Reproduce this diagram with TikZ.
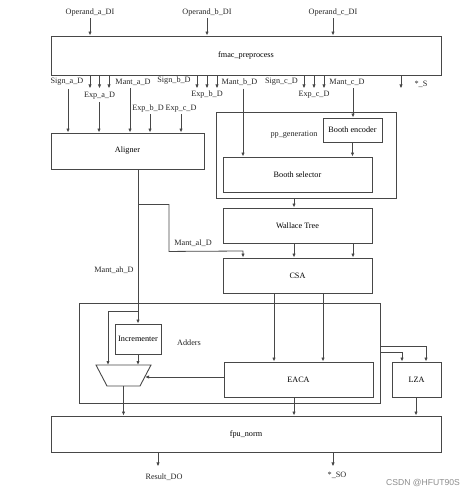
\documentclass[tikz,border=0pt]{standalone}
\usepackage{fontspec}
\setmainfont{Liberation Serif}
\newfontfamily\wmfont{Liberation Sans}
\usetikzlibrary{arrows.meta}
\tikzset{
  ln/.style={draw=black!72, line width=0.8pt},
  arr/.style={ln, -{Latex[length=4pt,width=3.4pt]}},
  box/.style={draw=black!72, line width=0.9pt, inner sep=0pt, font=\fontsize{8.2}{9}\selectfont},
  lbl/.style={inner sep=0pt, font=\fontsize{8.2}{9}\selectfont, text=black!85},
}
\begin{document}
\begin{tikzpicture}[x=1pt,y=-1pt]
\useasboundingbox (0,0) rectangle (474,494);

% ---- boxes
\node[box, minimum width=390pt, minimum height=39pt] (fmac) at (246,55.5) {fmac\_preprocess};
\node[box, minimum width=153pt, minimum height=36pt] (align) at (127.5,151) {Aligner};
\node[box, minimum width=180pt, minimum height=86pt] (pp) at (306,155) {};
\node[lbl] (pplbl) at (294,135) {pp\_generation};
\node[box, minimum width=59pt, minimum height=24pt] (benc) at (352.5,130) {Booth encoder};
\node[box, minimum width=149pt, minimum height=35pt] (bsel) at (297.5,174.5) {Booth selector};
\node[box, minimum width=149pt, minimum height=35pt] (wal) at (297.5,225.5) {Wallace Tree};
\node[box, minimum width=149pt, minimum height=35pt] (csa) at (297.5,275.5) {CSA};
\node[box, minimum width=301pt, minimum height=100pt] (adders) at (229.5,353) {};
\node[lbl] (addlbl) at (189,343) {Adders};
\node[box, minimum width=46pt, minimum height=30pt] (inc) at (138,339) {Incrementer};
\node[box, minimum width=149pt, minimum height=35pt] (eaca) at (298.5,379.5) {EACA};
\node[box, minimum width=49pt, minimum height=35pt] (lza) at (416.5,379.5) {LZA};
\node[box, minimum width=390pt, minimum height=36pt] (fpu) at (246,434) {fpu\_norm};

% ---- multiplexer
\coordinate (muxtl) at (96,365);
\coordinate (muxtr) at (151,365);
\coordinate (muxbr) at (140,386);
\coordinate (muxbl) at (107,386);
\draw[draw=black!72, line width=0.9pt] (muxtl) -- (muxtr) -- (muxbr) -- (muxbl) -- cycle;
\coordinate (muxin1) at (108,365);
\coordinate (muxin2) at (138,365);
\coordinate (muxinr) at (145,377);
\coordinate (muxout) at (123.5,386);

% ---- top inputs
\node[lbl] (opa) at (90,13) {Operand\_a\_DI};
\node[lbl] (opb) at (207,13) {Operand\_b\_DI};
\node[lbl] (opc) at (333,13) {Operand\_c\_DI};
\draw[arr] (opa.south) ++(0,1.5) -- (opa.south |- fmac.north);
\draw[arr] (opb.south) ++(0,1.5) -- (opb.south |- fmac.north);
\draw[arr] (opc.south) ++(0,1.5) -- (opc.south |- fmac.north);

% ---- fmac outputs
\foreach \xx in {90,99.5,109,197,207,217,304,314,324,401}
  \draw[arr] (fmac.south -| \xx,0) -- ++(0,13);

\node[lbl] (signa) at (67,82) {Sign\_a\_D};
\node[lbl] (expa) at (99.5,96) {Exp\_a\_D};
\node[lbl] (manta) at (133,82) {Mant\_a\_D};
\node[lbl] (signb) at (174,81) {Sign\_b\_D};
\node[lbl] (expb) at (207,95) {Exp\_b\_D};
\node[lbl] (mantb) at (239.5,82) {Mant\_b\_D};
\node[lbl] (signc) at (281.5,82) {Sign\_c\_D};
\node[lbl] (expc) at (314,95) {Exp\_c\_D};
\node[lbl] (mantc) at (347,82) {Mant\_c\_D};
\node[lbl] (stars) at (421,84) {*\_S};
\node[lbl] (expb2) at (148,109) {Exp\_b\_D};
\node[lbl] (expc2) at (181,109) {Exp\_c\_D};

% ---- into Aligner
\draw[arr] (signa.south -| 68,0) ++(0,3) -- (align.north -| 68,0);
\draw[arr] (expa.south -| 99,0) ++(0,2) -- (align.north -| 99,0);
\draw[arr] (manta.south -| 130,0) ++(0,3) -- (align.north -| 130,0);
\draw[arr] (expb2.south -| 150,0) ++(0,1.5) -- (align.north -| 150,0);
\draw[arr] (expc2.south -| 181,0) ++(0,1.5) -- (align.north -| 181,0);

% ---- into pp_generation
\draw[arr] (mantb.south -| 243,0) ++(0,3) -- (bsel.north -| 243,0);
\draw[arr] (mantc.south -| 353,0) ++(0,3) -- (benc.north -| 353,0);
\draw[arr] (benc.south) -- (benc.south |- bsel.north);
\draw[arr] (pp.south -| 294,0) -- (wal.north -| 294,0);
\draw[arr] (wal.south -| 294,0) -- (csa.north -| 294,0);
\draw[arr] (wal.south -| 353,0) -- (csa.north -| 353,0);

% ---- Aligner outputs
\draw[arr] (align.south -| 138,0) -- (inc.north -| 138,0);
\draw[arr] (align.south -| 138,0) ++(0,35) -- ++(31,0) -- ++(0,47) -- (243,251) -- (csa.north -| 243,0);
\node[lbl] (mantal) at (193,243) {Mant\_al\_D};
\node[lbl] (mantah) at (114,270) {Mant\_ah\_D};
\draw[arr] (138,311) -- (108,311) -- (muxin1);
\draw[arr] (inc.south -| 138,0) -- (muxin2);

% ---- CSA to EACA
\draw[arr] (csa.south -| 274,0) -- (eaca.north -| 274,0);
\draw[arr] (csa.south -| 323,0) -- (eaca.north -| 323,0);

% ---- to LZA
\draw[arr] (adders.east |- 0,346) -- (426,346) -- (lza.north -| 426,0);
\draw[arr] (adders.east |- 0,352) -- (402,352) -- (lza.north -| 402,0);

% ---- EACA to mux
\draw[arr] (eaca.west |- muxinr) -- (muxinr);

% ---- into fpu_norm
\draw[arr] (muxout) -- (fpu.north -| muxout);
\draw[arr] (eaca.south -| 294,0) -- (fpu.north -| 294,0);
\draw[arr] (lza.south -| 416,0) -- (fpu.north -| 416,0);

% ---- outputs
\node[lbl] (res) at (164,477) {Result\_DO};
\node[lbl] (sso) at (337,475) {*\_SO};
\draw[arr] (fpu.south -| 158,0) -- ++(0,14);
\draw[arr] (fpu.south -| 333,0) -- ++(0,14);

% ---- watermark
\node[inner sep=0pt, text=black!45, font=\wmfont\fontsize{8.6}{10}\selectfont] (wm) at (423,483) {CSDN @HFUT90S};
\end{tikzpicture}
\end{document}
